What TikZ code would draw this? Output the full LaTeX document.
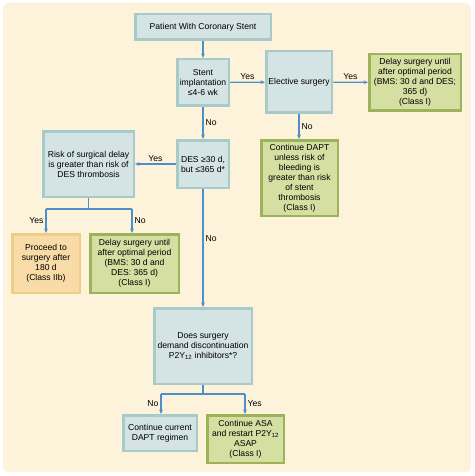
\documentclass[tikz,border=0pt]{standalone}
\usepackage{fontspec}
\setmainfont{Liberation Sans}
\usetikzlibrary{arrows.meta}
\definecolor{bg}{HTML}{FDF3DB}
\definecolor{bluefill}{HTML}{D4E3E4}
\definecolor{bluebd}{HTML}{A8CAC8}
\definecolor{greenfill}{HTML}{D5DFA2}
\definecolor{greenbd}{HTML}{9DB35B}
\definecolor{orfill}{HTML}{F8DBA6}
\definecolor{orbd}{HTML}{EFCC88}
\definecolor{arrowc}{HTML}{4C8FCB}
\tikzset{
  basebox/.style={line width=2.5pt, align=center, inner sep=0pt,
    font=\fontsize{8.6}{10}\selectfont},
  bluebox/.style={basebox, draw=bluebd, fill=bluefill},
  greenbox/.style={basebox, draw=greenbd, fill=greenfill},
  orbox/.style={basebox, draw=orbd, fill=orfill},
  conn/.style={draw=arrowc, line width=1.2pt},
  arr/.style={conn, -{Stealth[length=4.5pt,width=3.8pt]}},
  lbl/.style={font=\fontsize{8.6}{10}\selectfont, inner sep=2pt}
}
\begin{document}
\begin{tikzpicture}[x=1pt,y=-1pt]
\useasboundingbox (0,0) rectangle (474,476);
\fill[white] (0,0) rectangle (474,476);
\fill[bg, rounded corners=6pt] (3,3) rectangle (471,472);

\node[bluebox, minimum width=135.5pt, minimum height=25.5pt] (patient) at (203,27) {Patient With Coronary Stent};
\node[bluebox, minimum width=51.5pt, minimum height=46.5pt] (stent) at (203,82.5) {Stent\\implantation\\≤4-6 wk};
\node[bluebox, minimum width=65.5pt, minimum height=61.5pt] (elective) at (299,82) {Elective surgery};
\node[greenbox, minimum width=91.5pt, minimum height=56.5pt] (delay1) at (415,82.5) {Delay surgery until\\after optimal period\\(BMS: 30 d and DES;\\365 d)\\(Class I)};
\node[greenbox, minimum width=76.5pt, minimum height=75.5pt] (cont) at (299.5,178) {Continue DAPT\\unless risk of\\bleeding is\\greater than risk\\of stent\\thrombosis\\(Class I)};
\node[bluebox, minimum width=51.5pt, minimum height=47.5pt] (des) at (203,164) {DES ≥30 d,\\but ≤365 d*};
\node[bluebox, minimum width=90.5pt, minimum height=65.5pt] (risk) at (88.5,164) {Risk of surgical delay\\is greater than risk of\\DES thrombosis};
\node[orbox, minimum width=67.5pt, minimum height=58.5pt] (proceed) at (46,263.5) {Proceed to\\surgery after\\180 d\\(Class IIb)};
\node[greenbox, minimum width=88.5pt, minimum height=58.5pt] (delay2) at (134.5,263.5) {Delay surgery until\\after optimal period\\(BMS: 30 d and\\DES: 365 d)\\(Class I)};
\node[bluebox, minimum width=97.5pt, minimum height=75.5pt] (does) at (203,346) {Does surgery\\demand discontinuation\\P2Y\textsubscript{12} inhibitors*?};
\node[bluebox, minimum width=73.5pt, minimum height=35.5pt] (curr) at (160,433) {Continue current\\DAPT regimen};
\node[greenbox, minimum width=76.5pt, minimum height=47.5pt] (asa) at (245.5,439) {Continue ASA\\and restart P2Y\textsubscript{12}\\ASAP\\(Class I)};

\draw[arr] (patient) -- (stent);
\draw[arr] (stent) -- node[lbl, above] {Yes} (elective);
\draw[arr] (elective) -- node[lbl, above] {Yes} (delay1);
\draw[arr] (stent) -- node[lbl, right] {No} (des);
\draw[arr] (elective.south) -- node[lbl, right] {No} (elective.south |- cont.north);
\draw[arr] (des) -- node[lbl, above] {Yes} (risk);
\draw[arr] (des) -- node[lbl, right, pos=0.42] {No} (does);

\coordinate (rs) at (risk.south |- 0,209);
\coordinate (rl) at (46,209);
\coordinate (rr) at (132,209);
\draw[conn] (risk.south) -- (rs);
\draw[conn] (rl) -- (rr);
\draw[arr] (rl) -- node[lbl, left] {Yes} (rl |- proceed.north);
\draw[arr] (rr) -- node[lbl, right] {No} (rr |- delay2.north);

\coordinate (ds) at (203,394);
\coordinate (dl) at (161,394);
\coordinate (dr) at (245,394);
\draw[conn] (does.south) -- (ds);
\draw[conn] (dl) -- (dr);
\draw[arr] (dl) -- node[lbl, left] {No} (dl |- curr.north);
\draw[arr] (dr) -- node[lbl, right] {Yes} (dr |- asa.north);
\end{tikzpicture}
\end{document}
